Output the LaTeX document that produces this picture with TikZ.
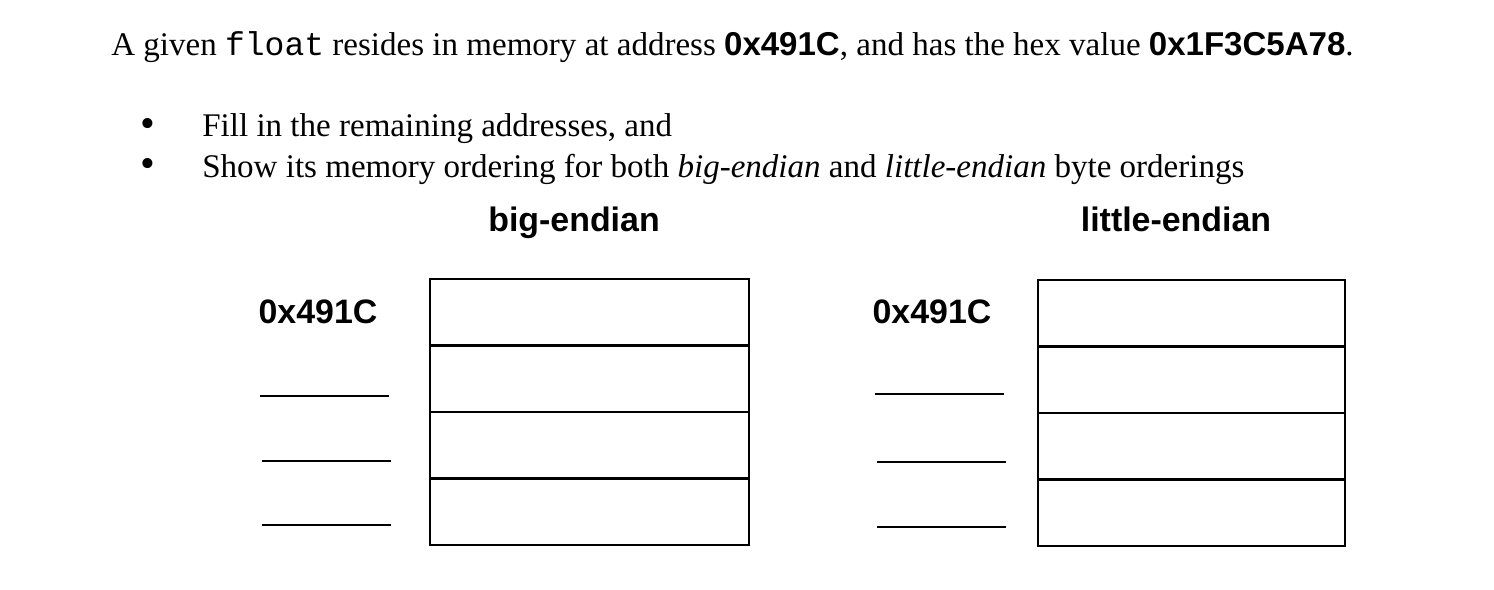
\documentclass[tikz,border=0pt]{standalone}
\usepackage{fontspec}
\setmainfont{Liberation Serif}
\setsansfont{Liberation Sans}
\setmonofont{Liberation Mono}
\usetikzlibrary{positioning}

\begin{document}
\begin{tikzpicture}[x=0.02cm, y=-0.02cm,
    txt/.style={inner sep=0pt, anchor=base west, font=\fontsize{18.8}{22}\selectfont},
    dot/.style={inner sep=0pt, font=\fontsize{24}{26}\selectfont},
    hdr/.style={inner sep=0pt, anchor=base, font=\fontsize{19.3}{22}\selectfont\sffamily\bfseries},
    cell/.style={draw, line width=1.2pt, minimum height=1.33cm, outer sep=0pt, inner sep=0pt},
    blankline/.style={line width=1pt}]
  \useasboundingbox (0,0) rectangle (1494,590);

  % question text
  \node[txt] (title) at (111,56) {A given \texttt{float} resides in memory at address \textsf{\textbf{0x491C}}, and has the hex value \textsf{\textbf{0x1F3C5A78}}.};
  \node[dot] (dot1) at (148,128) {\textbullet};
  \node[txt] (item1) at (202,137) {Fill in the remaining addresses, and};
  \node[dot] (dot2) at (148,168) {\textbullet};
  \node[txt] (item2) at (202,178) {Show its memory ordering for both \textit{big-endian} and \textit{little-endian} byte orderings};

  % big-endian table
  \node[hdr] (bighead) at (574,232) {big-endian};
  \node[cell, minimum width=6.38cm] (big1) at (589.5,312.25) {};
  \node[cell, minimum width=6.38cm, below=0pt of big1] (big2) {};
  \node[cell, minimum width=6.38cm, below=0pt of big2] (big3) {};
  \node[cell, minimum width=6.38cm, below=0pt of big3] (big4) {};
  \node[hdr, anchor=center] (bigaddr) at (318,312) {0x491C};
  \coordinate (bigb2) at (260,396); \coordinate (bigb3) at (262,461);
  \coordinate (bigb4) at (262,525);
  \draw[blankline] (bigb2) -- ++(129,0);
  \draw[blankline] (bigb3) -- ++(129,0);
  \draw[blankline] (bigb4) -- ++(129,0);

  % little-endian table
  \node[hdr] (littlehead) at (1176,232) {little-endian};
  \node[cell, minimum width=6.14cm] (little1) at (1191.5,313.25) {};
  \node[cell, minimum width=6.14cm, below=0pt of little1] (little2) {};
  \node[cell, minimum width=6.14cm, below=0pt of little2] (little3) {};
  \node[cell, minimum width=6.14cm, below=0pt of little3] (little4) {};
  \node[hdr, anchor=center] (littleaddr) at (932,312) {0x491C};
  \coordinate (littleb2) at (875,394); \coordinate (littleb3) at (877,462);
  \coordinate (littleb4) at (877,527);
  \draw[blankline] (littleb2) -- ++(129,0);
  \draw[blankline] (littleb3) -- ++(129,0);
  \draw[blankline] (littleb4) -- ++(129,0);
\end{tikzpicture}
\end{document}
